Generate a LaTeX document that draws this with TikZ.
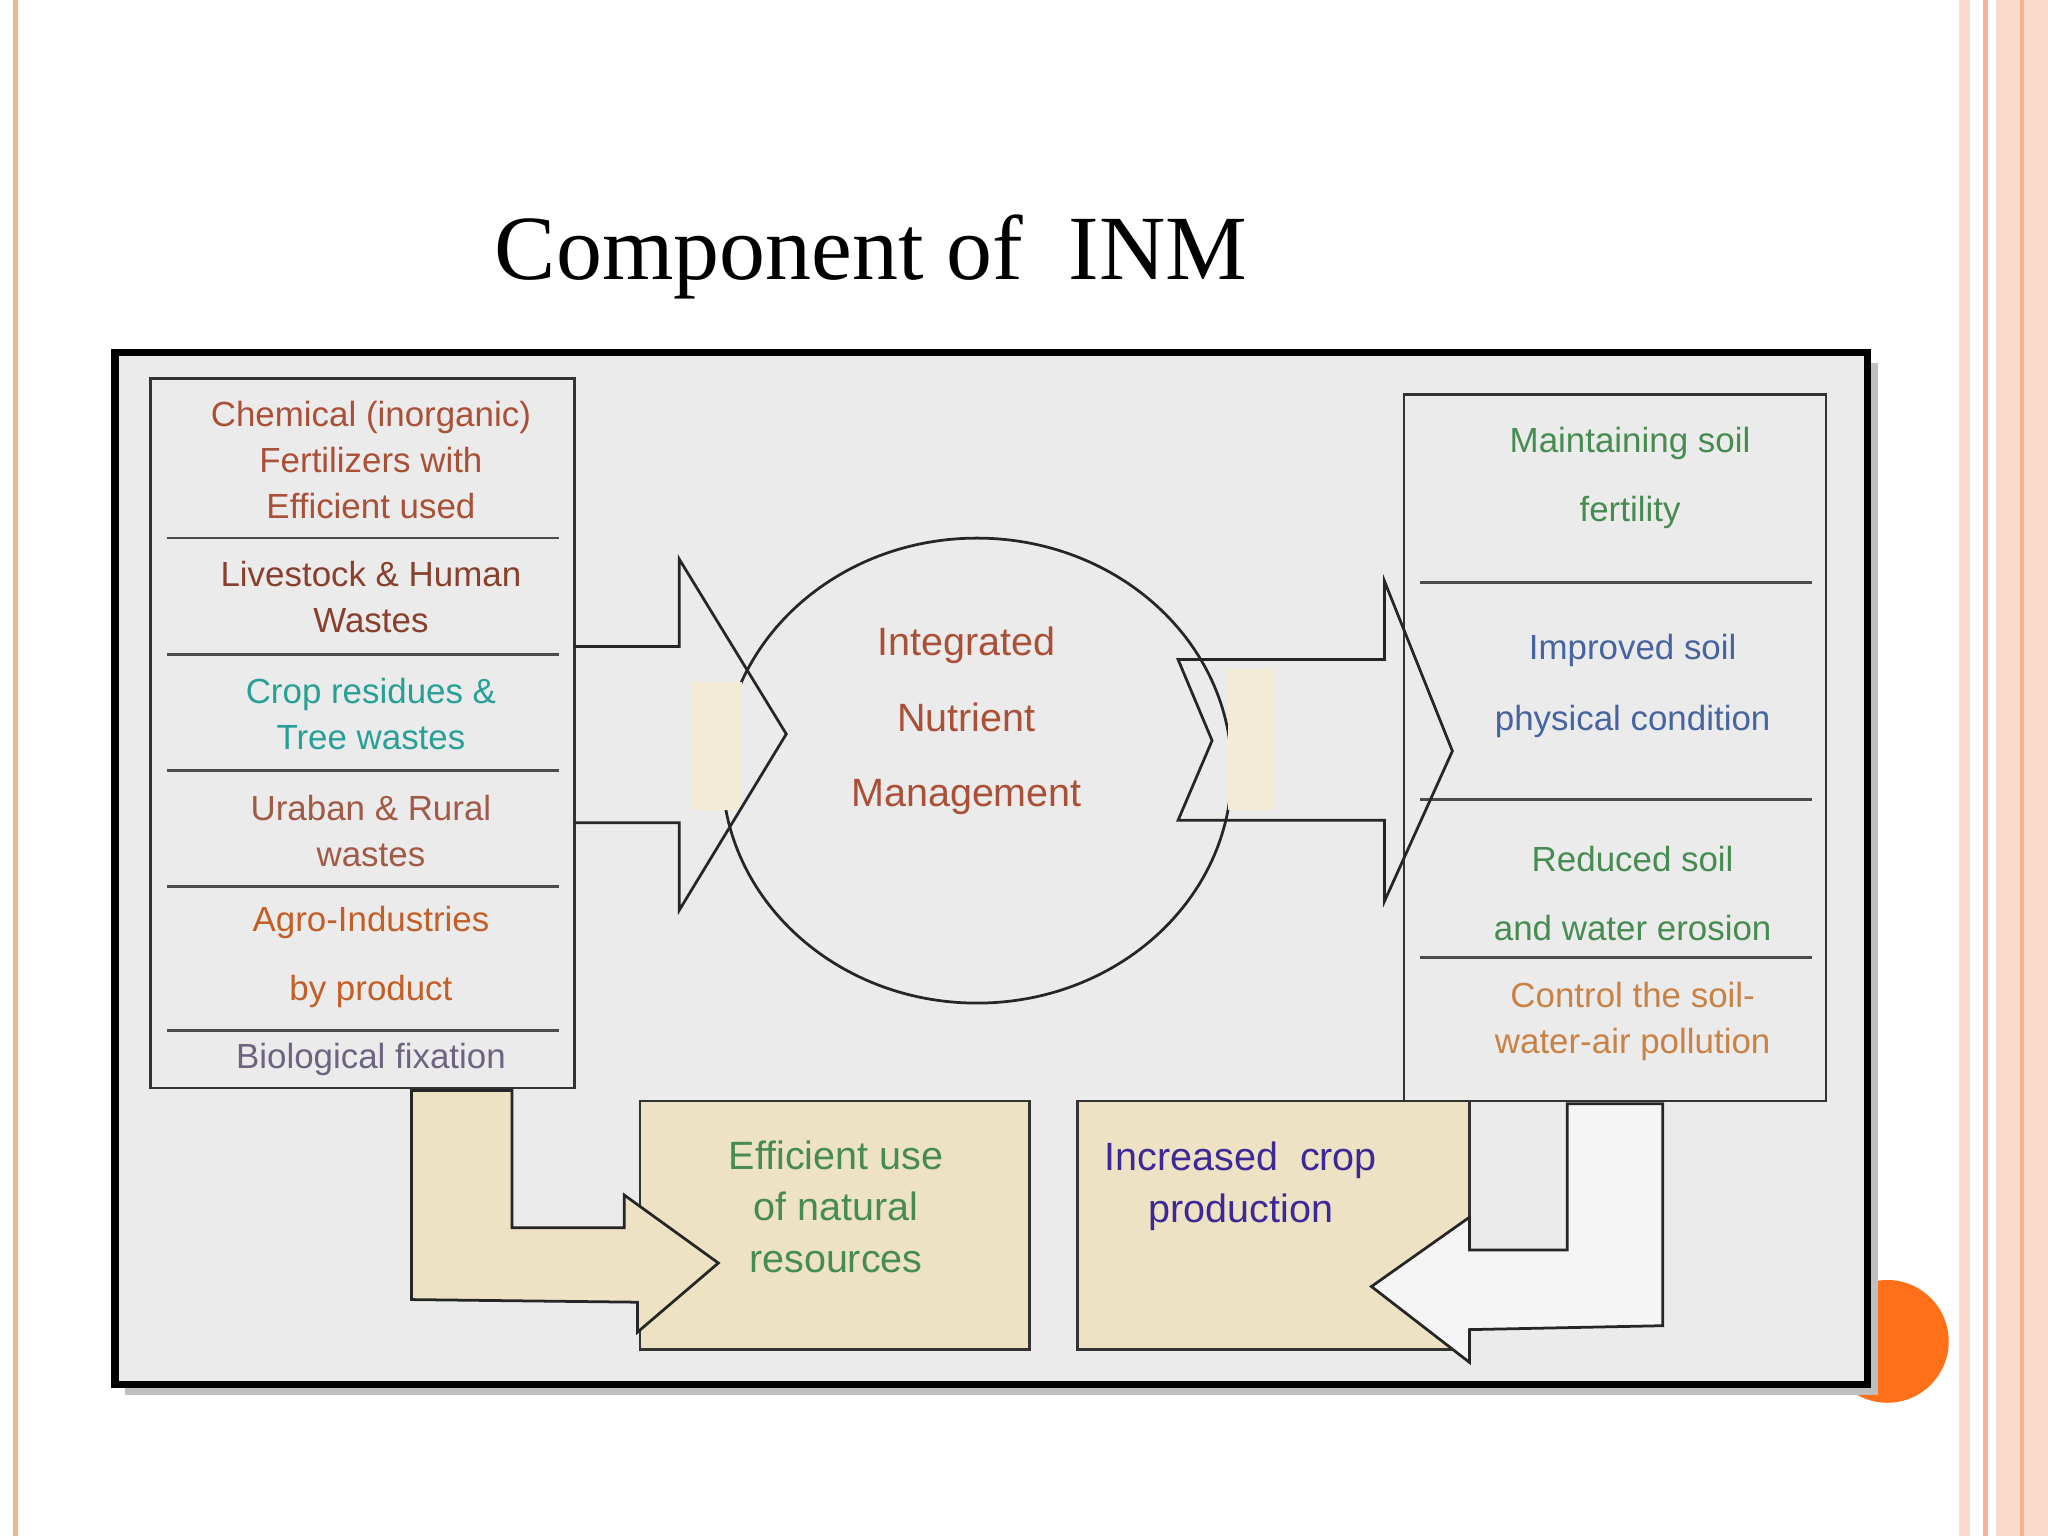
\documentclass[tikz,border=0pt]{standalone}
\usepackage{fontspec}
\setmainfont{Liberation Sans}
\newfontfamily\titlefont{Liberation Serif}
\begin{document}
\begin{tikzpicture}[x=0.01cm,y=-0.01cm,
 lbl/.style={font=\fontsize{7.6}{10}\selectfont,align=center,inner sep=0pt},
 box/.style={draw=black!80,line width=0.6pt},
 sep/.style={draw=black!70,line width=0.6pt},
 arr/.style={draw=black!85,line width=0.6pt}]
\definecolor{beige}{RGB}{238,226,196}
\definecolor{salmon}{RGB}{245,180,150}
\definecolor{brn}{RGB}{170,80,55}
\definecolor{grn}{RGB}{70,140,80}
\definecolor{teal2}{RGB}{40,160,150}
\definecolor{blu}{RGB}{70,100,160}
\definecolor{orn}{RGB}{200,130,70}
\definecolor{gpur}{RGB}{110,100,130}
\definecolor{ipur}{RGB}{60,40,150}
\useasboundingbox (0,0) rectangle (1568,1176);
\fill[white] (0,0) rectangle (1568,1176);
% decorative stripes
\draw[salmon,line width=1.2pt] (12,0) -- (12,1176);
\fill[salmon!50] (1500,0) rectangle (1508,1176);
\draw[salmon,line width=1pt] (1520,0) -- (1520,1176);
\fill[salmon!50] (1528,0) rectangle (1568,1176);
\draw[salmon,line width=1pt] (1548,0) -- (1548,1176);
\fill[orange!75!red!90] (1445,1027) circle (47);
\node[font=\titlefont\fontsize{20}{24}\selectfont,inner sep=0pt] (title) at (667,197) {Component of\ \ INM};
% frame
\fill[black!25] (96,278) rectangle (1438,1068);
\filldraw[fill=black!8,draw=black,line width=1.6pt] (88,270) rectangle (1430,1060);
% left box
\filldraw[fill=black!8,box] (115,290) rectangle (440,833);
\foreach \y in {412,501,590,679,789} \draw[sep] (128,\y) -- (428,\y);
\node[lbl,text=brn] (l1) at (284,352) {Chemical (inorganic)\\Fertilizers with\\Efficient used};
\node[lbl,text=brn!80!black] (l2) at (284,457) {Livestock \& Human\\Wastes};
\node[lbl,text=teal2] (l3) at (284,547) {Crop residues \&\\Tree wastes};
\node[lbl,text=brn!80!gray] (l4) at (284,636) {Uraban \& Rural\\wastes};
\node[lbl,text=brn!70!orange,font=\fontsize{7.6}{15}\selectfont] (l5) at (284,733) {Agro-Industries\\by product};
\node[lbl,text=gpur] (l6) at (284,811) {Biological fixation};
% right box
\filldraw[fill=black!8,box] (1075,302) rectangle (1398,843);
\foreach \y in {446,612,733} \draw[sep] (1087,\y) -- (1387,\y);
\node[lbl,text=grn,font=\fontsize{7.6}{15}\selectfont] (r1) at (1248,366) {Maintaining soil\\fertility};
\node[lbl,text=blu,font=\fontsize{7.6}{15.5}\selectfont] (r2) at (1250,525) {Improved soil\\physical condition};
\node[lbl,text=grn,font=\fontsize{7.6}{15}\selectfont] (r3) at (1250,684) {Reduced soil\\and water erosion};
\node[lbl,text=orn] (r4) at (1250,782) {Control the soil-\\water-air pollution};
% circle
\draw[arr] (748,590) ellipse (195 and 178);
\fill[beige!70] (530,522) rectangle (568,620);
\fill[beige!70] (940,512) rectangle (975,620);
\node[lbl,text=brn,font=\fontsize{8.6}{16.5}\selectfont] (c) at (740,552) {Integrated\\Nutrient\\Management};
% arrows
\draw[arr] (440,495) -- (520,495) -- (520,428) -- (602,562) -- (520,697) -- (520,630) -- (440,630);
\draw[arr] (1060,505) -- (1060,445) -- (1112,575) -- (1060,690) -- (1060,628) -- (902,628) -- (928,567) -- (902,505) -- cycle;
% bottom boxes
\filldraw[fill=beige,box] (490,843) rectangle (788,1033);
\filldraw[fill=beige,box] (825,843) rectangle (1125,1033);
\filldraw[fill=beige,arr] (315,835) -- (392,835) -- (392,940) -- (478,940) -- (478,915) -- (550,967) -- (488,1020) -- (488,997) -- (315,995) -- cycle;
\filldraw[fill=black!4,arr] (1200,845) -- (1273,845) -- (1273,1015) -- (1125,1018) -- (1125,1043) -- (1050,985) -- (1125,932) -- (1125,957) -- (1200,957) -- cycle;
\node[lbl,text=grn,font=\fontsize{8.6}{11.3}\selectfont] (b1) at (640,924) {Efficient use\\of natural\\resources};
\node[lbl,text=ipur,font=\fontsize{8.6}{11.3}\selectfont] (b2) at (950,908) {Increased\ \ crop\\production};
\end{tikzpicture}
\end{document}
